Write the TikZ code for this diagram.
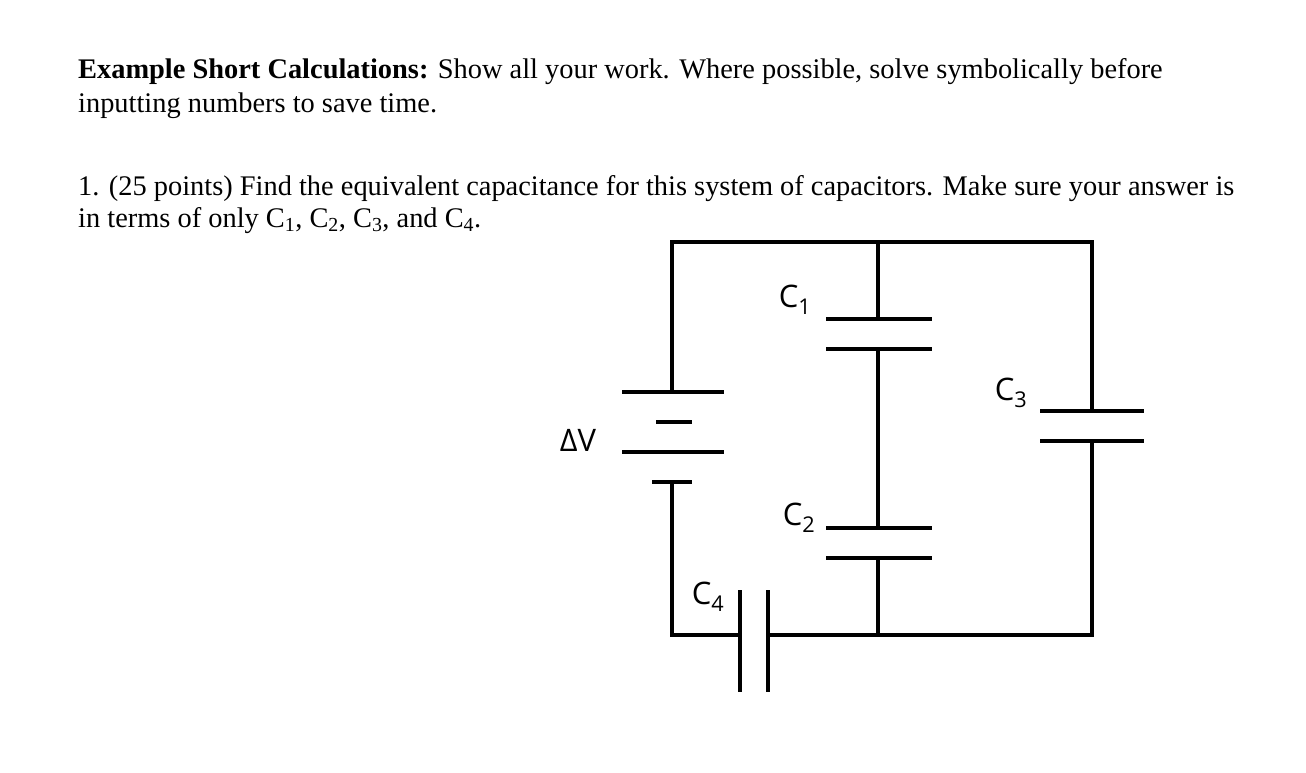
\documentclass[tikz,border=0pt]{standalone}
\usepackage{fontspec}
\setmainfont{Liberation Serif}
\newfontfamily\lblfont{Open Sans}
\begin{document}
\begin{tikzpicture}[x=1pt,y=-1pt,
  wire/.style={line width=4pt},
  txt/.style={anchor=base west,inner sep=0pt,font=\fontsize{28.4}{32}\selectfont},
  lbl/.style={inner sep=0pt,font=\lblfont\fontsize{31}{34}\selectfont}]
\useasboundingbox (0,0) rectangle (1306,772);
\node[txt] (t1) at (78,78) {\textbf{Example Short Calculations:} Show all your work. Where possible, solve symbolically before};
\node[txt] (t2) at (78,112) {inputting numbers to save time.};
\node[txt] (t3) at (78,195) {1. (25 points) Find the equivalent capacitance for this system of capacitors. Make sure your answer is};
\node[txt] (t4) at (78,227) {in terms of only C\textsubscript{1}, C\textsubscript{2}, C\textsubscript{3}, and C\textsubscript{4}.};
% nodes
\coordinate (tl) at (672,242); \coordinate (tm) at (878,242); \coordinate (tr) at (1092,242);
\coordinate (bl) at (672,635); \coordinate (bm) at (878,635); \coordinate (br) at (1092,635);
\coordinate (b1) at (672,392); \coordinate (b4) at (672,482);
\coordinate (c1a) at (878,319); \coordinate (c1b) at (878,349);
\coordinate (c2a) at (878,528); \coordinate (c2b) at (878,558);
\coordinate (c3a) at (1092,411); \coordinate (c3b) at (1092,441);
\coordinate (c4a) at (740,635); \coordinate (c4b) at (768,635);
\draw[wire] (b1) -- (tl) -- (tr) -- (c3a);
\draw[wire] (tm) -- (c1a); \draw[wire] (c1b) -- (c2a); \draw[wire] (c2b) -- (bm);
\draw[wire] (c3b) -- (br) -- (c4b);
\draw[wire] (b4) -- (bl) -- (c4a);
% battery
\draw[wire] (622,392) -- (724,392);
\draw[wire] (656,422) -- (692,422);
\draw[wire] (622,452) -- (724,452);
\draw[wire] (652,482) -- (692,482);
% capacitors
\draw[wire] (826,319) -- (932,319); \draw[wire] (826,349) -- (932,349);
\draw[wire] (826,528) -- (932,528); \draw[wire] (826,558) -- (932,558);
\draw[wire] (1040,411) -- (1144,411); \draw[wire] (1040,441) -- (1144,441);
\draw[wire] (740,590) -- (740,692); \draw[wire] (768,590) -- (768,692);
% labels
\node[lbl] (l1) at (795,300) {C\textsubscript{1}};
\node[lbl] (l2) at (799,518) {C\textsubscript{2}};
\node[lbl] (l3) at (1011,393) {C\textsubscript{3}};
\node[lbl] (l4) at (708,597) {C\textsubscript{4}};
\node[lbl] (lv) at (578,440) {ΔV};
\end{tikzpicture}
\end{document}
